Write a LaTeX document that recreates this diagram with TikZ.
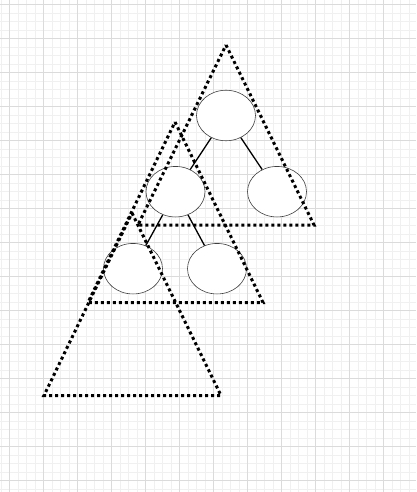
\documentclass[tikz,border=0pt]{standalone}
\usetikzlibrary{shapes.geometric}
\begin{document}
\begin{tikzpicture}[x=1pt,y=-1pt,
  minorgrid/.style={draw=black!6, line width=0.5pt},
  majorgrid/.style={draw=black!14, line width=0.8pt},
  treenode/.style={ellipse, draw=black!75, fill=white, line width=0.6pt,
    minimum width=59pt, minimum height=50.5pt, inner sep=0pt},
  edgeline/.style={draw=black, line width=1.3pt},
  tri/.style={draw=black, line width=3pt, dash pattern=on 3pt off 3pt}]
\useasboundingbox (0,0) rectangle (416,492);
\fill[white] (0,0) rectangle (416,492);
% grid
\foreach \i in {0,...,48} \draw[minorgrid] (0.8+8.5*\i,0) -- (0.8+8.5*\i,492);
\foreach \i in {0,...,57} \draw[minorgrid] (0,4.3+8.5*\i) -- (416,4.3+8.5*\i);
\foreach \i in {0,...,11} \draw[majorgrid] (9.3+34*\i,0) -- (9.3+34*\i,492);
\foreach \i in {0,...,14} \draw[majorgrid] (0,4.3+34*\i) -- (416,4.3+34*\i);
% tree
\node[treenode] (n1) at (226,115.5) {};
\node[treenode] (n2) at (175.5,191.7) {};
\node[treenode] (n3) at (277,191.7) {};
\node[treenode] (n4) at (133,268.7) {};
\node[treenode] (n5) at (217,268.7) {};
\draw[edgeline] (n1) -- (n2);
\draw[edgeline] (n1) -- (n3);
\draw[edgeline] (n2) -- (n4);
\draw[edgeline] (n2) -- (n5);
% dotted triangles
\draw[tri] (226,45) -- (314,225) -- (138,225) -- cycle;
\draw[tri] (175,122) -- (263,302.5) -- (88,302.5) -- cycle;
\draw[tri] (132,213) -- (221,395.5) -- (44,395.5) -- cycle;
\end{tikzpicture}
\end{document}
